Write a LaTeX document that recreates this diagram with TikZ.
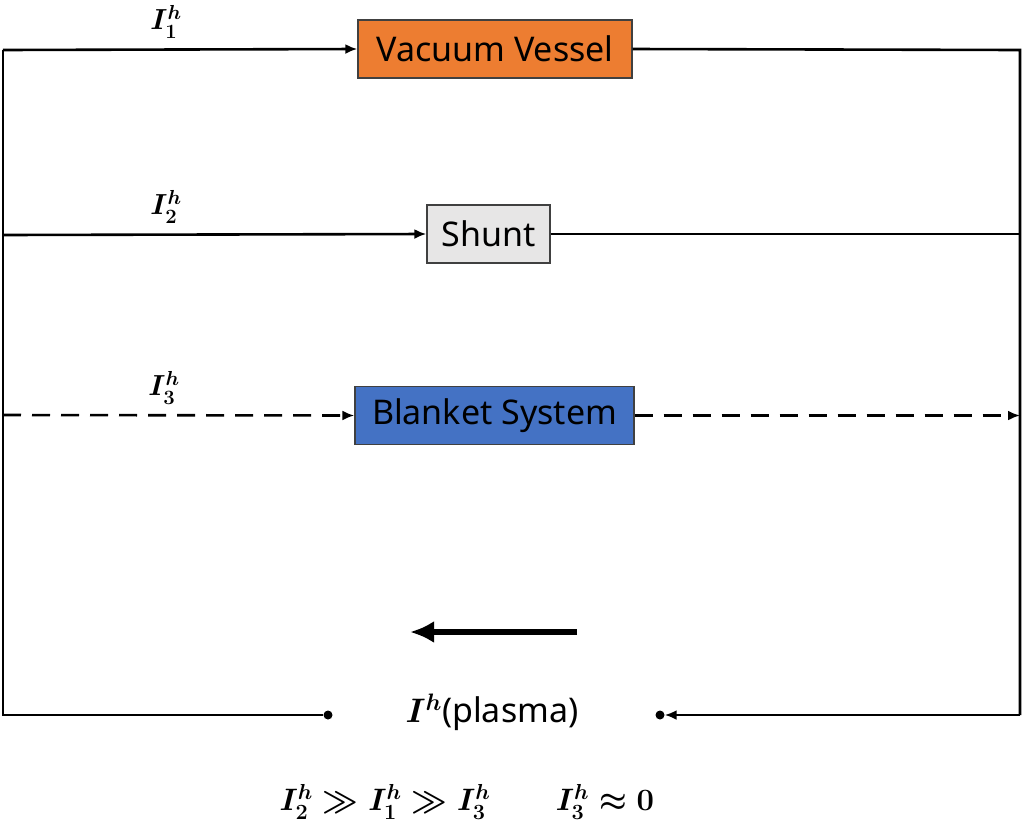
\RequirePackage{fix-cm}
\documentclass[tikz,border=0pt]{standalone}
\usepackage{amsmath}
\usepackage{amssymb}
\usepackage{bm}
\usepackage{fontspec}
\setmainfont{Noto Sans}
\usetikzlibrary{
    arrows.meta,
    positioning
}
\definecolor{vesselorange}{HTML}{ED7D31}
\definecolor{shuntgray}{HTML}{E7E6E6}
\definecolor{blanketblue}{HTML}{4472C4}

\begin{document}
\begin{tikzpicture}[x=1pt, y=-1pt,
        wire/.style={line width=2.6pt},
        dashwire/.style={wire, dash pattern=on 18pt off 11pt},
        partbox/.style={draw=black!75, line width=1.3pt, minimum height=58pt, inner sep=0pt,
            font=\fontsize{34}{40}\selectfont},
        curlabel/.style={font=\fontsize{29}{34}\selectfont\boldmath},
        biglabel/.style={font=\fontsize{34}{40}\selectfont\boldmath},
        dotnode/.style={circle, fill=black, inner sep=0pt, minimum size=9pt},
        >={Latex[length=12pt, width=10pt]}]
    \useasboundingbox (0, 0) rectangle (1025, 831);
    % outer loop corners
    \coordinate (lt) at (3, 50);
    \coordinate (ls) at (3, 235);
    \coordinate (lm) at (3, 415);
    \coordinate (lb) at (3, 715);
    \coordinate (rt) at (1020, 50);
    \coordinate (rb) at (1020, 715);
    % parts
    \node[partbox, fill=vesselorange, minimum width=274pt] (vessel) at (495, 49) {Vacuum Vessel};
    \node[partbox, fill=shuntgray, minimum width=123pt] (shunt) at (488.5, 234) {Shunt};
    \node[partbox, fill=blanketblue, minimum width=279pt] (blanket) at (494.5, 415.5) {Blanket System};
    \node[dotnode] (pl) at (328, 715) {};
    \node[dotnode] (pr) at (660, 715) {};
    \node[biglabel] (plasma) at (492, 712) {$I^{h}$(plasma)};
    % branches
    \draw[wire, ->] (lt) -- (vessel.west);
    \draw[wire] (vessel.east) -- (rt) -- (rb);
    \draw[wire, ->] (ls) -- (shunt.west);
    \draw[wire] (shunt.east) -- (shunt.east -| rt);
    \draw[dashwire, ->] (lm) -- (blanket.west);
    \draw[dashwire, ->] (blanket.east) -- (blanket.east -| rt);
    \draw[wire] (lt) -- (lb) -- (pl);
    \draw[wire, ->] (rb) -- (pr);
    % currents
    \node[curlabel] (i1) at (166, 22) {$I_{1}^{h}$};
    \node[curlabel] (i2) at (166, 207) {$I_{2}^{h}$};
    \node[curlabel] (i3) at (164, 388) {$I_{3}^{h}$};
    \coordinate (flowa) at (577, 632);
    \coordinate (flowb) at (410, 632);
    \draw[line width=6pt, -{Latex[length=24pt, width=22pt]}] (flowa) -- (flowb);
    \node[biglabel, font=\fontsize{31}{37}\selectfont\boldmath] (relation) at (385, 802) {$I_{2}^{h} \gg I_{1}^{h} \gg I_{3}^{h}$};
    \node[biglabel, font=\fontsize{31}{37}\selectfont\boldmath] (approx) at (605, 802) {$I_{3}^{h} \approx 0$};
\end{tikzpicture}
\end{document}
